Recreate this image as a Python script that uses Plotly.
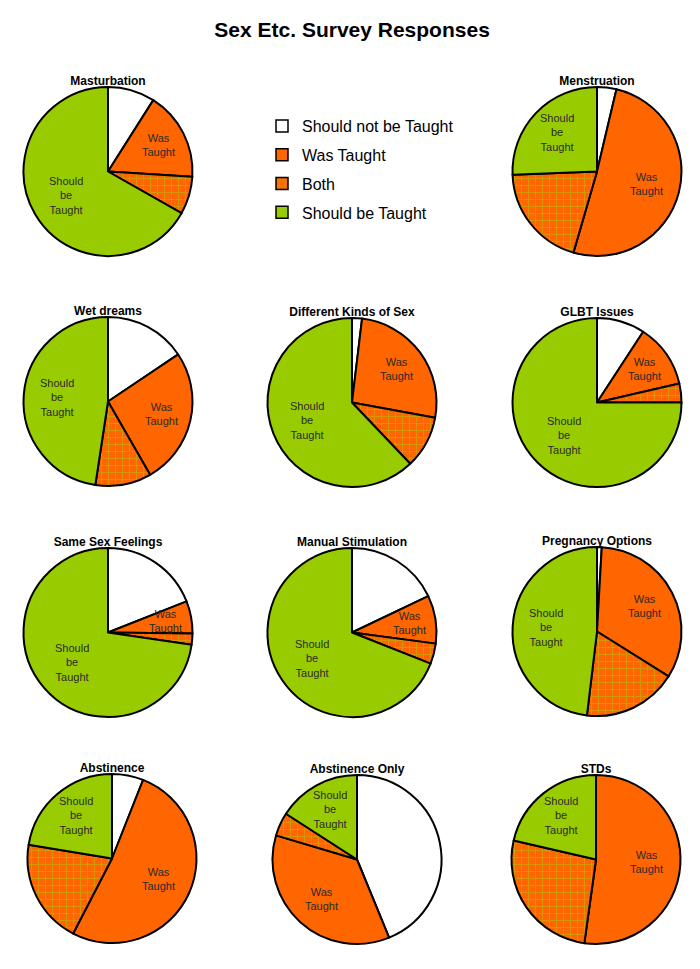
import math
import plotly.graph_objects as go

categories = ["Should not be Taught", "Was Taught", "Both", "Should be Taught"]
topics = ["Masturbation", "Menstruation", "Wet dreams", "Different Kinds of Sex",
          "GLBT Issues", "Same Sex Feelings", "Manual Stimulation", "Pregnancy Options",
          "Abstinence", "Abstinence Only", "STDs"]
should_not = [9.0, 3.7, 15.6, 1.9, 9.2, 19.0, 17.9, 0.9, 6.0, 43.8, 0.0]
was_taught = [17.0, 50.8, 26.1, 26.0, 12.2, 6.2, 9.2, 33.0, 51.6, 35.8, 52.2]
both = [7.2, 19.9, 10.7, 10.0, 3.6, 2.1, 3.9, 18.0, 20.0, 4.5, 26.4]
should_be = [66.8, 25.6, 47.6, 62.1, 75.0, 72.7, 69.0, 48.1, 22.4, 15.9, 21.4]
slice_text = ["", "Was<br>Taught", "", "Should<br>be<br>Taught"]

W, H = 700, 969
# pie centres in pixels (layout only)
centres = [(108, 171), (597, 171),
           (108, 401), (352, 402), (597, 402),
           (108, 632), (352, 632), (597, 631),
           (112, 858), (357, 859), (596, 859)]
R = 85
TITLE_H = 13

GREEN = "#99CC00"
ORANGE = "#FF6600"
colors = ["#FFFFFF", ORANGE, ORANGE, GREEN]
shapes = ["", "", "+", ""]
pattern = dict(fgcolor="#A8CC10", bgcolor=ORANGE, size=7, solidity=0.24, fillmode="overlay")

fig = go.Figure()
annotations = []
for i, name in enumerate(topics):
    cx, cy = centres[i]
    vals = [should_not[i], was_taught[i], both[i], should_be[i]]
    fig.add_trace(go.Pie(
        labels=categories,
        values=vals,
        textinfo="none",
        sort=False,
        direction="clockwise",
        rotation=0,
        marker=dict(colors=colors, line=dict(color="black", width=2),
                    pattern=dict(shape=shapes, **pattern)),
        domain=dict(x=[(cx - R) / W, (cx + R) / W],
                    y=[1 - (cy + R) / H, 1 - (cy - R - TITLE_H) / H]),
        title=dict(text="<b>" + name + "</b>", position="top center",
                   font=dict(size=12, color="black", family="Liberation Sans")),
        showlegend=False,
        hoverinfo="label+percent",
    ))
    # slice labels placed along each slice's mid-angle
    total = sum(vals)
    cum = 0.0
    for k, v in enumerate(vals):
        p = v / total
        mid = (cum + p / 2) * 2 * math.pi
        cum += p
        if not slice_text[k] or v <= 0:
            continue
        f = 0.7 - 0.2 * p
        x = cx + f * R * math.sin(mid)
        y = cy - f * R * math.cos(mid)
        annotations.append(dict(x=x / W, y=1 - y / H, xref="paper", yref="paper",
                                text=slice_text[k], showarrow=False,
                                font=dict(size=11, color="#2a2a2a", family="Liberation Sans"),
                                xanchor="center", yanchor="middle"))

# legend entries
for k, cat in enumerate(categories):
    fig.add_trace(go.Bar(
        x=[cat], y=[None], name=cat, legendgroup="g%d" % k,
        marker=dict(color=colors[k], line=dict(color="black", width=1.5),
                    pattern=dict(shape=shapes[k], **pattern)),
        showlegend=True, hoverinfo="skip",
    ))

fig.update_layout(
    width=W, height=H,
    margin=dict(l=0, r=0, t=0, b=0),
    paper_bgcolor="white", plot_bgcolor="white",
    font=dict(family="Liberation Sans", color="black"),
    xaxis=dict(visible=False), yaxis=dict(visible=False),
    title=dict(text="<b>Sex Etc. Survey Responses</b>", x=0.503, xanchor="center",
               y=1 - 30 / H, yanchor="middle", font=dict(size=21, color="black")),
    legend=dict(x=262 / W, y=1 - 109 / H, xanchor="left", yanchor="top",
                font=dict(size=16, color="black"), traceorder="grouped",
                tracegroupgap=5, itemwidth=30, bgcolor="rgba(0,0,0,0)"),
    annotations=annotations,
)

fig.write_html("out.html")
